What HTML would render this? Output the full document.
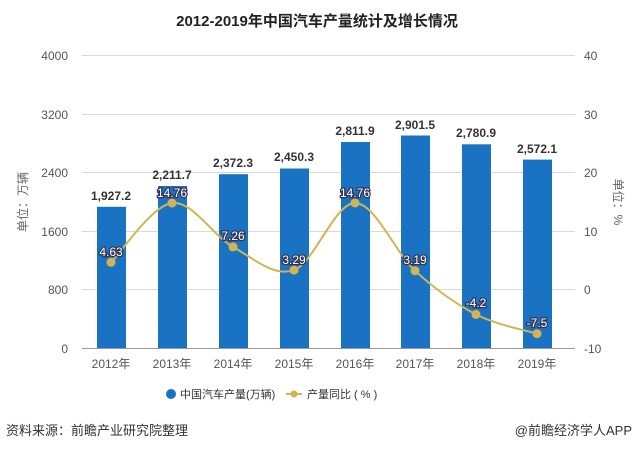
<!DOCTYPE html>
<html><head><meta charset="utf-8">
<style>
html,body{margin:0;padding:0;background:#fff;}
svg{display:block;font-family:"Liberation Sans","Noto Sans CJK SC",sans-serif;}
</style></head><body>
<svg width="635" height="450" viewBox="0 0 635 450" xmlns="http://www.w3.org/2000/svg">
<text x="317" y="26" text-anchor="middle" font-size="15" font-weight="bold" fill="#222">2012-2019年中国汽车产量统计及增长情况</text>
<g stroke="#d9d9d9" stroke-width="1">
<line x1="82" y1="55.5" x2="575" y2="55.5"/>
<line x1="82" y1="114.5" x2="575" y2="114.5"/>
<line x1="82" y1="172.5" x2="575" y2="172.5"/>
<line x1="82" y1="231.5" x2="575" y2="231.5"/>
<line x1="82" y1="289.5" x2="575" y2="289.5"/>
</g>
<line x1="82" y1="348.5" x2="575" y2="348.5" stroke="#999"/>
<g font-size="12" fill="#555" text-anchor="end">
<text x="68" y="60">4000</text><text x="68" y="119">3200</text><text x="68" y="177">2400</text>
<text x="68" y="236">1600</text><text x="68" y="294">800</text><text x="68" y="353">0</text>
</g>
<g font-size="12" fill="#555" text-anchor="start">
<text x="584" y="60">40</text><text x="584" y="119">30</text><text x="584" y="177">20</text>
<text x="584" y="236">10</text><text x="584" y="294">0</text><text x="584" y="353">-10</text>
</g>
<text transform="translate(27,202) rotate(-90)" font-size="12" fill="#666" text-anchor="middle">单位：万辆</text>
<text transform="translate(614,202) rotate(90)" font-size="12" fill="#666" text-anchor="middle">单位：%</text>
<g fill="#1a73c2">
<rect x="97" y="206.8" width="29" height="141.2"/>
<rect x="158" y="186" width="29" height="162"/>
<rect x="219" y="174.2" width="29" height="173.8"/>
<rect x="280" y="168.5" width="29" height="179.5"/>
<rect x="341" y="142" width="29" height="206"/>
<rect x="401" y="135.5" width="29" height="212.5"/>
<rect x="462" y="144.3" width="29" height="203.7"/>
<rect x="523" y="159.6" width="29" height="188.4"/>
</g>
<g font-size="12" font-weight="bold" fill="#333" text-anchor="middle">
<text x="111" y="200">1,927.2</text><text x="172" y="179">2,211.7</text>
<text x="233" y="167">2,372.3</text><text x="294" y="161">2,450.3</text>
<text x="355" y="135">2,811.9</text><text x="415" y="129">2,901.5</text>
<text x="476" y="137">2,780.9</text><text x="537" y="153">2,572.1</text>
</g>
<path d="M111,262.3 C121.2,252.4 151.7,205.6 172,203 C192.3,200.4 212.7,235.7 233,246.9 C253.3,258.1 273.7,277.4 294,270.1 C314.2,262.8 334.8,202.9 355,203 C375.2,203.1 394.8,252.1 415,270.7 C435.2,289.3 455.7,303.9 476,314.4 C496.2,324.9 526.8,330.5 537,333.7" fill="none" stroke="#d4b452" stroke-width="2"/>
<g fill="#d4b452">
<circle cx="111" cy="262.3" r="4.5"/><circle cx="172" cy="203" r="4.5"/><circle cx="233" cy="246.9" r="4.5"/>
<circle cx="294" cy="270.1" r="4.5"/><circle cx="355" cy="203" r="4.5"/><circle cx="415" cy="270.7" r="4.5"/>
<circle cx="476" cy="314.4" r="4.5"/><circle cx="537" cy="333.7" r="4.5"/>
</g>
<g font-size="12" fill="#fff" stroke="#335" stroke-width="2.5" paint-order="stroke" text-anchor="middle">
<text x="111" y="256">4.63</text><text x="172" y="197">14.76</text><text x="233" y="240">7.26</text>
<text x="294" y="264">3.29</text><text x="355" y="197">14.76</text><text x="415" y="264">3.19</text>
<text x="476" y="307">-4.2</text><text x="537" y="327">-7.5</text>
</g>
<g font-size="12" fill="#555" text-anchor="middle">
<text x="111" y="368">2012年</text><text x="172" y="368">2013年</text><text x="233" y="368">2014年</text>
<text x="294" y="368">2015年</text><text x="355" y="368">2016年</text><text x="415" y="368">2017年</text>
<text x="476" y="368">2018年</text><text x="537" y="368">2019年</text>
</g>
<circle cx="171" cy="394" r="5" fill="#1a73c2"/>
<text x="180" y="398" font-size="11" fill="#333">中国汽车产量(万辆)</text>
<line x1="286" y1="394" x2="302" y2="394" stroke="#d4b452" stroke-width="2"/>
<circle cx="294" cy="394" r="3.5" fill="#d4b452"/>
<text x="307" y="398" font-size="11" fill="#333">产量同比 ( % )</text>
<text x="6" y="435" font-size="13" fill="#333">资料来源：前瞻产业研究院整理</text>
<text x="632" y="435" font-size="13" fill="#333" text-anchor="end">@前瞻经济学人APP</text>
</svg>
</body></html>
